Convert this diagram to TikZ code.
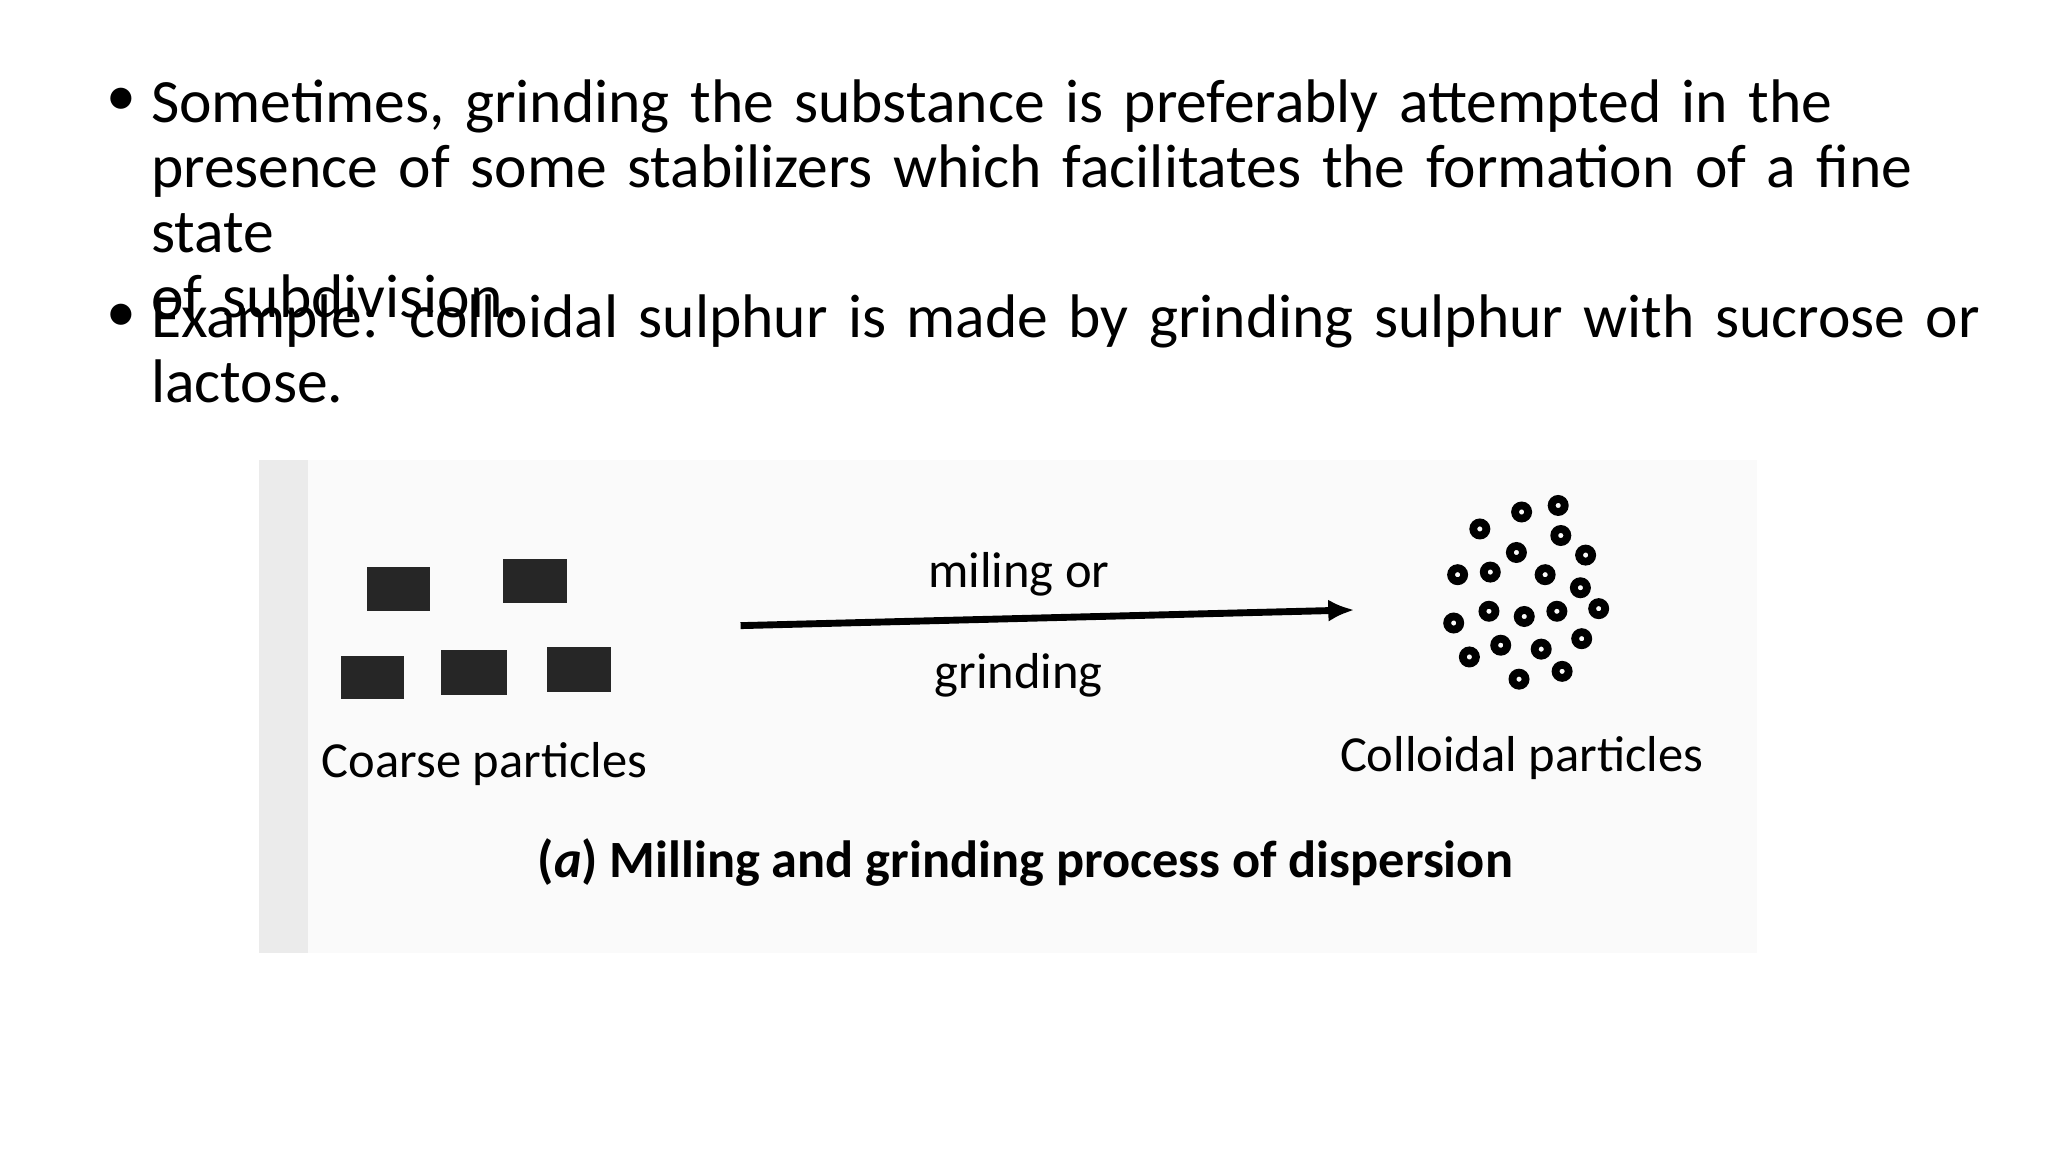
\documentclass[tikz,border=0pt]{standalone}
\usepackage{fontspec}
\usetikzlibrary{arrows.meta}
\setmainfont{Carlito}
\newfontfamily\figfont{Carlito}
\begin{document}
\begin{tikzpicture}[x=0.01cm,y=-0.01cm,
  body/.style={anchor=north west,align=left,font=\fontsize{13.4pt}{14.2pt}\selectfont,inner sep=0pt,text width=14.0cm},
  sq/.style={fill=black!85},
  dot/.style={draw=black,line width=1.7pt,circle,minimum size=0.1cm,inner sep=0pt},
  lab/.style={font=\figfont\fontsize{11pt}{13pt}\selectfont,inner sep=0pt}]
\useasboundingbox (0,0) rectangle (1568,882);
\fill[black!2] (198,352) rectangle (1345,730);
\fill[black!8] (198,352) rectangle (236,730);
\node[inner sep=0pt] (b1) at (93,78) {\fontsize{13pt}{15pt}\selectfont•};
\node[body] (t1) at (115,60) {Sometimes, grinding the substance is preferably attempted in the\\ presence of some stabilizers which facilitates the formation of a fine state\\ of subdivision.};
\node[inner sep=0pt] (b2) at (93,243) {\fontsize{13pt}{15pt}\selectfont•};
\node[body] (t2) at (115,225) {Example: colloidal sulphur is made by grinding sulphur with sucrose or\\ lactose.};
\fill[sq] (281,434) rectangle (329,468);
\fill[sq] (385,428) rectangle (434,462);
\fill[sq] (261,502) rectangle (309,535);
\fill[sq] (338,498) rectangle (388,532);
\fill[sq] (419,495) rectangle (468,530);
\foreach \x/\y in {1133/405,1165/392,1193/387,1195/410,1161/423,1214/425,1116/440,1141/438,1183/440,1210/450,1140/468,1167/472,1192/468,1224/466,1113/477,1211/489,1149/494,1180/497,1125/503,1196/514,1163/520}
  \node[dot] at (\x,\y) {};
\coordinate (a1) at (567,479);
\coordinate (a2) at (1037,467);
\draw[line width=1.5pt,-{Latex[length=0.2cm,width=0.17cm]}] (a1) -- (a2);
\node[lab] (m1) at (780,440) {miling or};
\node[lab] (m2) at (780,517) {grinding};
\node[lab] (c1) at (371,585) {Coarse particles};
\node[lab] (c2) at (1165,580) {Colloidal particles};
\node[lab,font=\figfont\bfseries\fontsize{11.4pt}{13pt}\selectfont] (cap) at (785,660) {(\textit{a}) Milling and grinding process of dispersion};
\end{tikzpicture}
\end{document}
